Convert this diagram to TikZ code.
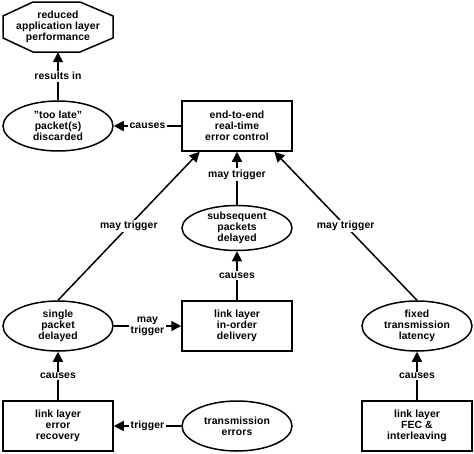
\documentclass[tikz,border=0pt]{standalone}
\usepackage{fontspec}
\setmainfont{Liberation Sans}[LetterSpace=1]
\usetikzlibrary{arrows.meta,shapes.geometric,calc}
\begin{document}
\begin{tikzpicture}[x=1pt,y=-1pt,
  every node/.style={font=\bfseries\fontsize{10.4}{11}\selectfont,align=center},
  boxnode/.style={draw,line width=1.5pt,minimum width=110pt,minimum height=50pt,inner sep=0pt},
  ellnode/.style={draw,ellipse,line width=1.5pt,minimum width=110pt,minimum height=50pt,inner sep=0pt},
  octnode/.style={minimum width=110pt,minimum height=50pt,inner sep=0pt},
  conn/.style={line width=1.5pt,-{Triangle[length=10pt,width=10pt]}},
  lbl/.style={fill=white,inner sep=1.5pt}]
\useasboundingbox (0,0) rectangle (474,453);
% nodes
\node[octnode] (oct) at (58,27) {reduced\\application layer\\performance};
\draw[line width=1.5pt] ($(oct.center)+(-25,-25)$) -- ($(oct.center)+(22,-25)$) -- ($(oct.center)+(55,-11)$) -- ($(oct.center)+(55,11)$) -- ($(oct.center)+(22,25)$) -- ($(oct.center)+(-25,25)$) -- ($(oct.center)+(-55,11)$) -- ($(oct.center)+(-55,-11)$) -- cycle;
\node[ellnode] (late) at (58,126) {"too late"\\packet(s)\\discarded};
\node[boxnode] (ete) at (237,126) {end-to-end\\real-time\\error control};
\node[ellnode,minimum height=45pt] (subs) at (237,228) {subsequent\\packets\\delayed};
\node[ellnode] (single) at (58,326) {single\\packet\\delayed};
\node[boxnode] (ino) at (237,326) {link layer\\in-order\\delivery};
\node[ellnode] (fixed) at (417,326) {fixed\\transmission\\latency};
\node[boxnode] (rec) at (58,426) {link layer\\error\\recovery};
\node[ellnode] (terr) at (237,426) {transmission\\errors};
\node[boxnode] (fec) at (417,426) {link layer\\FEC \&\\interleaving};
% connectors
\draw[conn] (late.north) -- node[lbl] {results in} (oct.south);
\draw[conn] (ete.west) -- node[lbl] {causes} (late.east);
\draw[conn] (single.north) -- node[lbl] {may trigger} ($(ete.south west)!0.165!(ete.south east)$);
\draw[conn] (subs.north) -- node[lbl,pos=0.57] {may trigger} (ete.south);
\draw[conn] (fixed.north) -- node[lbl] {may trigger} ($(ete.south west)!0.835!(ete.south east)$);
\draw[conn] (ino.north) -- node[lbl] {causes} (subs.south);
\draw[conn] (single.east) -- node[lbl] {may\\trigger} (ino.west);
\draw[conn] (rec.north) -- node[lbl] {causes} (single.south);
\draw[conn] (terr.west) -- node[lbl] {trigger} (rec.east);
\draw[conn] (fec.north) -- node[lbl] {causes} (fixed.south);
\end{tikzpicture}
\end{document}
